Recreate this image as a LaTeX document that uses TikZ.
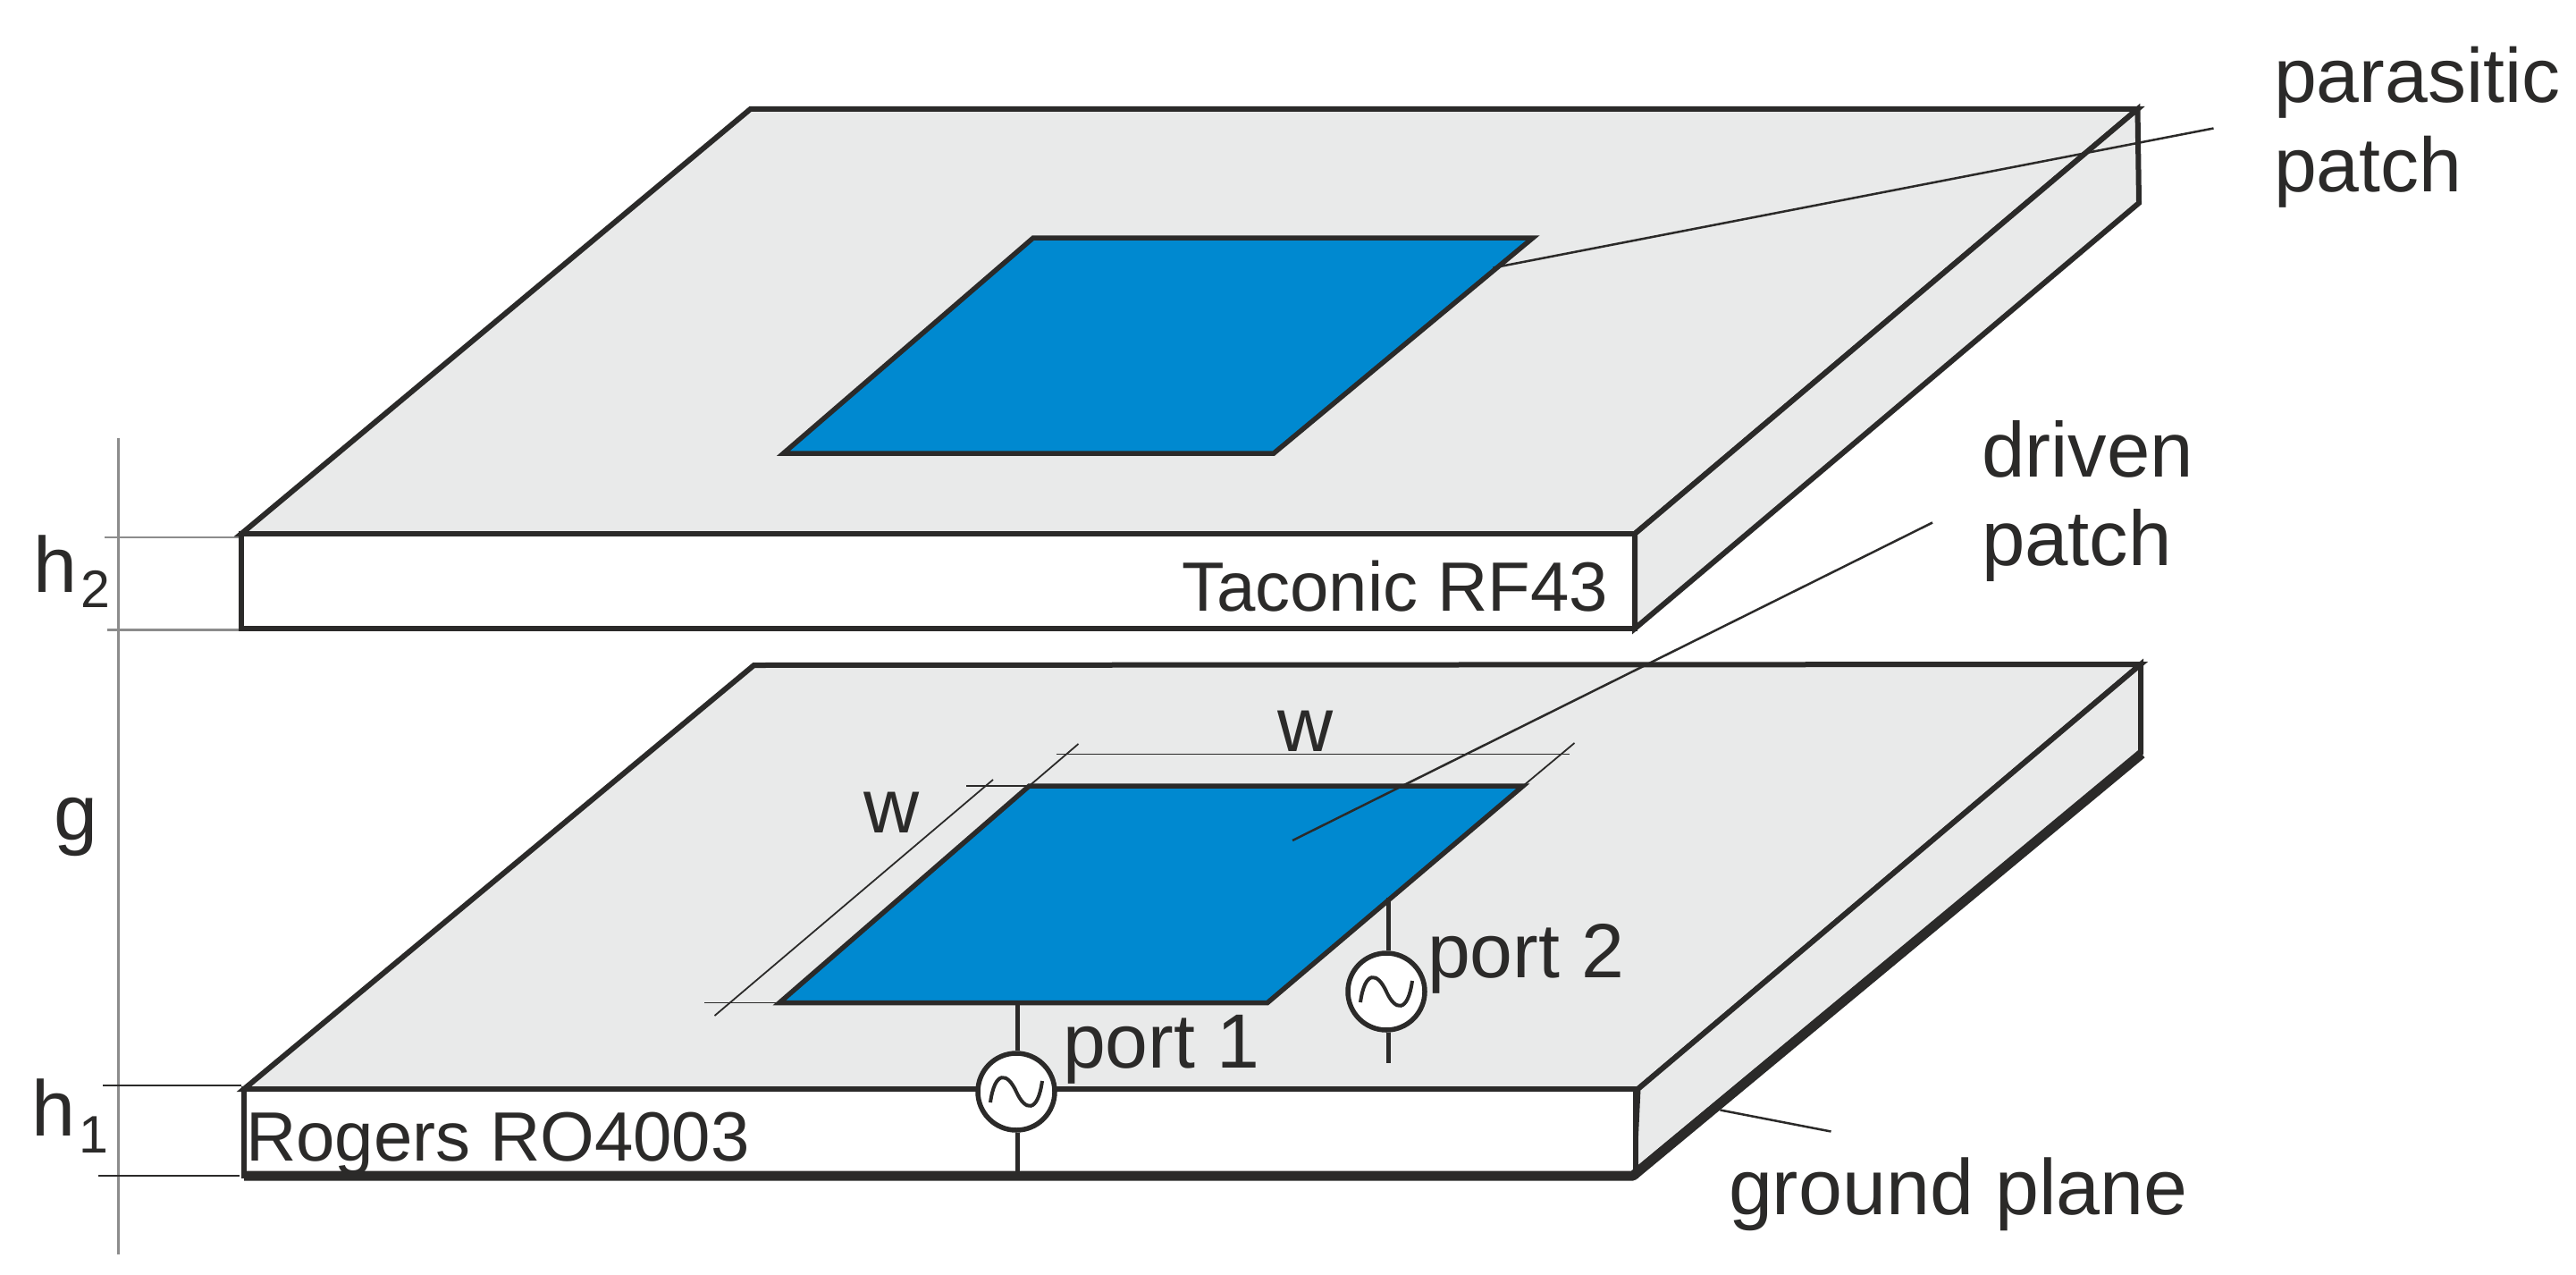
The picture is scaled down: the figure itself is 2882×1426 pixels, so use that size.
\documentclass[tikz,border=0pt]{standalone}
\usepackage{fontspec}
\setmainfont{Liberation Sans}
\definecolor{slab}{HTML}{E9EAEA}
\definecolor{patchblue}{HTML}{0089D0}
\definecolor{ink}{HTML}{2B2A29}
\definecolor{axisgray}{HTML}{8C8C8C}
\newcommand{\fsz}[1]{\fontsize{#1}{#1}\selectfont}
\tikzset{
  outline/.style={draw=ink,line width=6pt,line join=miter},
  surface/.style={outline,fill=slab},
  front/.style={outline,fill=white},
  patchshape/.style={draw=ink,line width=5.5pt,fill=patchblue,line join=miter},
  ground/.style={draw=ink,line width=11pt,line cap=butt,line join=round},
  leader/.style={draw=ink,line width=2.5pt},
  dim/.style={draw=ink,line width=1.8pt},
  tick/.style={draw=axisgray,line width=2.2pt},
  axisline/.style={draw=axisgray,line width=3pt},
  stem/.style={draw=ink,line width=5pt},
  port/.style={circle,draw=ink,fill=white,line width=5.5pt,minimum size=86pt,inner sep=0pt},
  big/.style={anchor=base west,inner sep=0pt,outer sep=0pt,text=ink,font=\fsz{86}},
  small/.style={anchor=base west,inner sep=0pt,outer sep=0pt,text=ink,font=\fsz{78}}
}
\begin{document}
\begin{tikzpicture}[x=1pt,y=-1pt]
\useasboundingbox[fill=white] (0,0) rectangle (2882,1426);

% height axis
\draw[axisline] (132.5,490) coordinate (axT) -- (132.5,1403) coordinate (axB);
\draw[tick] (117,601) -- (270,601);
\draw[tick] (120,704.5) -- (270,704.5);
\draw[dim,line width=2pt] (115,1214) -- (270,1214);
\draw[dim,line width=2pt] (110,1315) -- (268,1315);

% upper slab
\path[surface] (839.5,122) -- (2391.5,122) -- (1829,597) -- (270,597) -- cycle;
\path[surface] (1829,597) -- (2391.5,122) -- (2393,227) -- (1829,703) -- cycle;
\path[front] (270,597) rectangle (1829,703);
\path[patchshape] (1156,266) -- (1715,266) -- (1425,507) -- (876.5,507) -- cycle;

% lower slab
\path[surface] (843.5,744) -- (2395,743) -- (1832.5,1218) -- (273,1218) -- cycle;
\path[surface] (1832.5,1218) -- (2395,743) -- (2395,842) -- (1828,1311) -- cycle;
\path[front] (273,1218) rectangle (1830,1315);
\draw[ground] (273,1315) -- (1827,1315) -- (2396,843);
\path[patchshape] (1151.5,879) -- (1704,879) -- (1418,1121.5) -- (872,1121.5) -- cycle;

% dimension lines of the driven patch
\draw[dim] (1182,843.5) -- (1756,843.5);
\draw[dim] (1151.5,879) -- (1206.5,832);
\draw[dim] (1704,879) -- (1761.5,831);
\draw[dim] (799.5,1136) -- (1111,872);
\draw[dim] (788,1121.5) -- (872,1121.5);
\draw[dim] (1081,879) -- (1151.5,879);

% ports
\node[port] (p1) at (1137,1221) {};
\node[port] (p2) at (1551,1109) {};
\coordinate (p1top) at (1138.5,1121.5);
\coordinate (p1bot) at (1138.5,1315);
\coordinate (p2top) at (1553,1004);
\coordinate (p2bot) at (1553,1189);
\draw[stem] (p1top) -- (p1top |- p1.north);
\draw[stem] (p1bot |- p1.south) -- (p1bot);
\draw[stem] (p2top) -- (p2top |- p2.north);
\draw[stem] (p2bot |- p2.south) -- (p2bot);
\draw[draw=ink,line width=4pt,shift={(p1.center)}] (-29,12) .. controls (-24,-24) and (-10,-22) .. (0,0) .. controls (10,22) and (24,24) .. (29,-12);
\draw[draw=ink,line width=4pt,shift={(p2.center)}] (-29,12) .. controls (-24,-24) and (-10,-22) .. (0,0) .. controls (10,22) and (24,24) .. (29,-12);

% labels
\node[big] (parasitic) at (2544,115) {parasitic};
\node[big] (parasiticb) at (2544,214) {patch};
\node[big,font=\fsz{87}] (driven) at (2217,533) {driven};
\node[big,font=\fsz{87}] (drivenb) at (2217,632) {patch};
\node[big,font=\fsz{88}] (gnd) at (1934,1358) {ground plane};
\node[big] (port1) at (1189,1194) {port 1};
\node[big] (port2) at (1597,1093) {port 2};
\node[big] (w1) at (1429,840) {w};
\node[big] (w2) at (966,931) {w};
\node[small] (taconic) at (1322,683.5) {Taconic RF43};
\node[small] (rogers) at (275,1298) {Rogers RO4003};
\node[big,font=\fsz{88}] (h2) at (37,662) {h\hspace{5pt}\raisebox{-17pt}{\fsz{59}2}};
\node[big,font=\fsz{88}] (g) at (60,939) {g};
\node[big,font=\fsz{88}] (h1) at (35,1270) {h\hspace{5pt}\raisebox{-19pt}{\fsz{59}1}};

% leaders
\coordinate (lparA) at (1670.5,299.5);
\coordinate (lparB) at (2476.5,143.5);
\coordinate (ldrvA) at (1446,940);
\coordinate (ldrvB) at (2162,584.5);
\coordinate (lgndA) at (1924.5,1241.5);
\coordinate (lgndB) at (2048.5,1265.5);
\draw[leader] (lparA) -- (lparB);
\draw[leader] (ldrvA) -- (ldrvB);
\draw[leader] (lgndA) -- (lgndB);
\end{tikzpicture}
\end{document}
